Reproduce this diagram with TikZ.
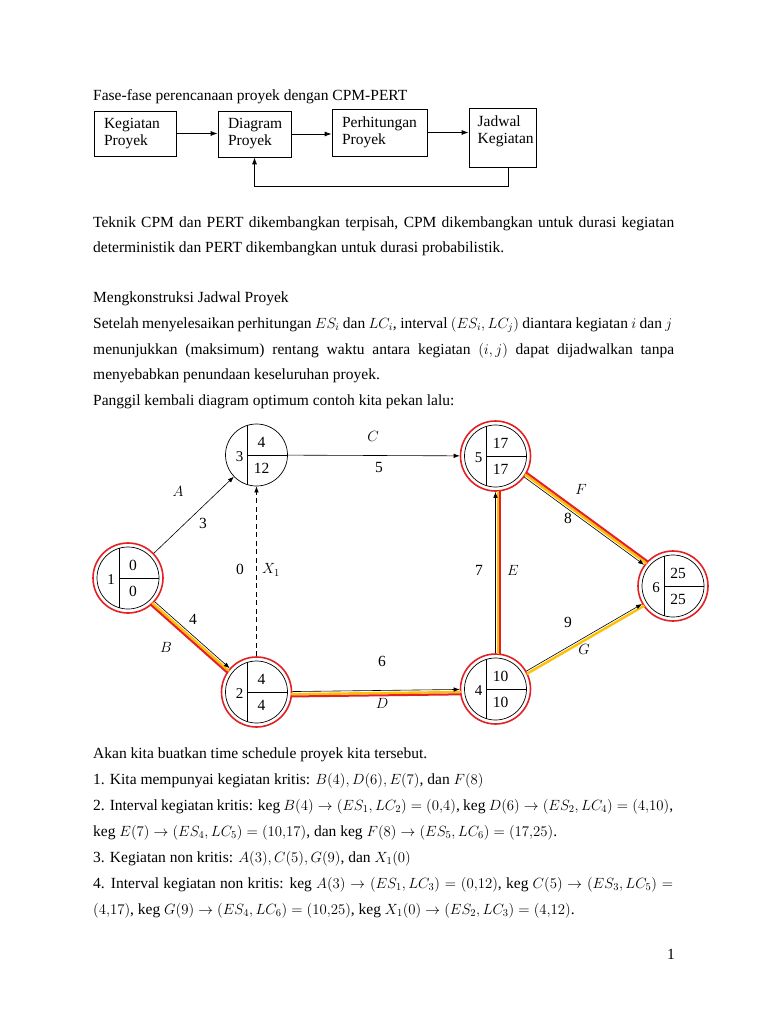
\RequirePackage{fix-cm}
\documentclass[tikz,border=0pt]{standalone}
\usepackage{fontspec}
\setmainfont{Liberation Serif}
\usetikzlibrary{arrows.meta,calc}
\DeclareMathSizes{15.5}{14.8}{10.5}{8}
\definecolor{cpred}{RGB}{228,32,36}
\definecolor{cpyel}{RGB}{255,192,0}
\newcommand\evt[6]{%
  \node[evc] (#1) at (#2,#3) {};
  \draw[divl] ($(#1.center)+(-9,-29.6)$) -- ($(#1.center)+(-9,29.6)$);
  \draw[divl] ($(#1.center)+(-9,0)$) -- ($(#1.center)+(31,0)$);
  \node[evn] (#1-n) at ($(#1.center)+(-17,2)$) {#4};
  \node[evv] (#1-t) at ($(#1.center)+(5,-13)$) {#5};
  \node[evv] (#1-b) at ($(#1.center)+(5,13)$) {#6};
}
\newcommand\critbar[5]{% from, to, side angle, with red (1/0), shorten
  \draw[cpyel, line width=2.4pt, shorten <=#5pt, shorten >=#5pt]
    ($(#1.center)!2.6pt!#3:(#2.center)$) -- ($(#2.center)!2.6pt!-#3:(#1.center)$);
  \ifnum#4=1
  \draw[cpred, line width=2pt, shorten <=#5pt, shorten >=#5pt]
    ($(#1.center)!4.9pt!#3:(#2.center)$) -- ($(#2.center)!4.9pt!-#3:(#1.center)$);
  \fi
}
\begin{document}
\begin{tikzpicture}[x=1pt,y=-1pt,
  txt/.style={anchor=base west, inner sep=0pt, font=\fontsize{15.5}{18}\selectfont},
  fbox/.style={draw, line width=0.8pt, inner xsep=10pt, inner ysep=0pt, align=left,
    font=\fontsize{15.5}{17}\selectfont},
  farr/.style={-{Latex[length=7pt,width=5pt]}, line width=0.8pt},
  arr/.style={-{Latex[length=6pt,width=4.5pt]}, line width=0.6pt},
  evc/.style={circle, draw, line width=0.7pt, minimum size=62pt, inner sep=0pt},
  evo/.style={circle, draw=cpred, line width=1.6pt, minimum size=70pt, inner sep=0pt},
  divl/.style={line width=0.7pt},
  evn/.style={inner sep=0pt, font=\fontsize{15}{16}\selectfont},
  evv/.style={inner sep=0pt, font=\fontsize{15.5}{16}\selectfont},
  lab/.style={inner sep=0pt, font=\fontsize{15.5}{16}\selectfont}]
\useasboundingbox (0,0) rectangle (768,1024);
\fill[white] (0,0) rectangle (768,1024);

% ---------- top flow chart ----------
\node[txt] (t0) at (93,101) {Fase-fase perencanaan proyek dengan CPM-PERT};
\node[fbox, text width=62pt, minimum height=45pt] (b1) at (135,133.5) {Kegiatan\\Proyek};
\node[fbox, text width=53pt, minimum height=46pt] (b2) at (254.5,134) {Diagram\\Proyek};
\node[fbox, text width=75pt, minimum height=47pt] (b3) at (379.5,132.5) {Perhitungan\\Proyek};
\node[draw, line width=0.8pt, minimum width=67pt, minimum height=59pt, inner sep=0pt] (b4) at (502.5,137.5) {};
\node[anchor=north west, inner sep=0pt, align=left, font=\fontsize{15.5}{17}\selectfont] (b4t) at (477.5,116) {Jadwal\\Kegiatan};
\draw[farr] (b1.east) -- (b1.east -| b2.west);
\draw[farr] (b2.east) -- (b2.east -| b3.west);
\draw[farr] (b3.east) -- (b3.east -| b4.west);
\coordinate (fb) at ([xshift=5.5pt]b4.south);
\draw[farr] (fb) -- ++(0,19) -| (b2.south);

% ---------- paragraphs ----------
\node[txt] (p1) at (93,227) {\makebox[581pt][s]{Teknik CPM dan PERT dikembangkan terpisah, CPM dikembangkan untuk durasi kegiatan}};
\node[txt] (p2) at (93,252.5) {deterministik dan PERT dikembangkan untuk durasi probabilistik.};
\node[txt] (p3) at (93,302.5) {Mengkonstruksi Jadwal Proyek};
\node[txt] (p4) at (93,328) {\makebox[579pt][s]{Setelah menyelesaikan perhitungan $ES_i$ dan $LC_i$, interval $\left(ES_i,LC_j\right)$ diantara kegiatan $i$ dan $j$}};
\node[txt] (p5) at (93,354) {\makebox[581pt][s]{menunjukkan (maksimum) rentang waktu antara kegiatan $(i,j)$ dapat dijadwalkan tanpa}};
\node[txt] (p6) at (93,379.5) {menyebabkan penundaan keseluruhan proyek.};
\node[txt] (p7) at (93,405) {Panggil kembali diagram optimum contoh kita pekan lalu:};

% ---------- network ----------
\node[evo] (n1o) at (128,578) {};
\node[evo] (n2o) at (256.5,692) {};
\node[evo] (n5o) at (495.5,456) {};
\node[evo] (n4o) at (495.5,689) {};
\node[evo] (n6o) at (673,586) {};
\evt{n1}{128}{578}{1}{0}{0}
\evt{n3}{256.5}{455}{3}{4}{12}
\evt{n2}{256.5}{692}{2}{4}{4}
\evt{n5}{495.5}{456}{5}{17}{17}
\evt{n4}{495.5}{689}{4}{10}{10}
\evt{n6}{673}{586}{6}{25}{25}

% critical highlight bars
\critbar{n1o}{n2o}{-90}{1}{34.6}
\critbar{n2o}{n4o}{-90}{1}{34.6}
\critbar{n4o}{n5o}{-90}{1}{34.6}
\critbar{n5o}{n6o}{90}{1}{34.6}
\critbar{n4o}{n6o}{-90}{0}{34.8}

% activities
\draw[arr] (n1o) -- (n3);
\draw[arr] (n1o) -- (n2o);
\draw[arr, dash pattern=on 5pt off 3.5pt] (n2o) -- (n3);
\draw[arr] (n3) -- (n5o);
\draw[arr] (n2o) -- (n4o);
\draw[arr] (n4o) -- (n5o);
\draw[arr] (n5o) -- (n6o);
\draw[arr] (n4o) -- (n6o);

% labels
\node[lab] (lA) at (178,491) {$A$};
\node[lab] (l3) at (203,523) {3};
\node[lab] (lB) at (166,647) {$B$};
\node[lab] (l4) at (193,619) {4};
\node[lab] (l0) at (240,569) {0};
\node[lab] (lX) at (271,570) {$X_1$};
\node[lab] (lC) at (373,436) {$C$};
\node[lab] (l5) at (379,467) {5};
\node[lab] (l6) at (382,661) {6};
\node[lab] (lD) at (382,703) {$D$};
\node[lab] (l7) at (479,570) {7};
\node[lab] (lE) at (513,570) {$E$};
\node[lab] (lF) at (581,489) {$F$};
\node[lab] (l8) at (568,518) {8};
\node[lab] (l9) at (568,622) {9};
\node[lab] (lG) at (584,649) {$G$};

% ---------- bottom text ----------
\node[txt] (q1) at (93,758) {Akan kita buatkan time schedule proyek kita tersebut.};
\node[txt] (q2) at (93,784) {1. Kita mempunyai kegiatan kritis: $B(4), D(6), E(7)$, dan $F(8)$};
\node[txt] (q3) at (93,810) {\makebox[580pt][s]{2. Interval kegiatan kritis: keg $B(4)\rightarrow(ES_1,LC_2)=(0{,}4)$, keg $D(6)\rightarrow(ES_2,LC_4)=(4{,}10)$,}};
\node[txt] (q4) at (93,836) {keg $E(7)\rightarrow(ES_4,LC_5)=(10{,}17)$, dan keg $F(8)\rightarrow(ES_5,LC_6)=(17{,}25)$.};
\node[txt] (q5) at (93,862) {3. Kegiatan non kritis: $A(3), C(5), G(9)$, dan $X_1(0)$};
\node[txt] (q6) at (93,888) {\makebox[580pt][s]{4. Interval kegiatan non kritis: keg $A(3)\rightarrow(ES_1,LC_3)=(0{,}12)$, keg $C(5)\rightarrow(ES_3,LC_5)=$}};
\node[txt] (q7) at (93,914) {$(4{,}17)$, keg $G(9)\rightarrow(ES_4,LC_6)=(10{,}25)$, keg $X_1(0)\rightarrow(ES_2,LC_3)=(4{,}12)$.};
\node[txt] (pg) at (667,959) {1};
\end{tikzpicture}
\end{document}
